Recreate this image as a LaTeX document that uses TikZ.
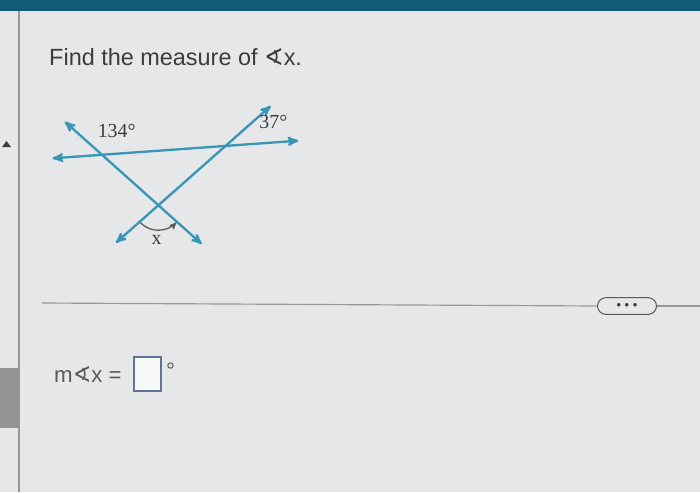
\documentclass[tikz,border=0pt]{standalone}
\usepackage{fontspec}
\setmainfont{Liberation Sans}
\newfontfamily\serifface{Liberation Serif}
\newfontfamily\symface{DejaVu Sans}
\usepackage{tikz}
\usetikzlibrary{arrows}
\definecolor{barteal}{RGB}{16,92,120}
\definecolor{lineteal}{RGB}{58,150,182}
\definecolor{paper}{RGB}{229,231,233}
\definecolor{inkgray}{RGB}{58,60,62}
\definecolor{softgray}{RGB}{88,90,94}
\definecolor{rulegray}{RGB}{150,153,156}
\definecolor{boxblue}{RGB}{96,116,152}
\tikzset{
  geo_line/.style = {lineteal, line width=2pt, <->, >=stealth'},% the three lines
  geo_arc/.style = {softgray, line width=1.1pt, ->, >=stealth'},% arc marking x
  geo_lbl/.style = {inner sep=0pt, text=inkgray,
    font=\serifface\fontsize{17}{17}\selectfont},% angle labels
  ttl_txt/.style = {inner sep=0pt, text=inkgray,
    font=\fontsize{20}{24}\selectfont},% question text
  ans_txt/.style = {inner sep=0pt, text=softgray,
    font=\fontsize{19}{22}\selectfont},% answer line
  ans_box/.style = {draw=boxblue, line width=0.9pt, fill=white!70!paper,
    minimum width=0.81cm, minimum height=1.02cm, inner sep=0pt},% input box
  dots_pill/.style = {draw=softgray, line width=0.9pt, rounded corners=0.25cm,
    minimum width=1.77cm, minimum height=0.5cm, inner sep=0pt, fill=paper,
    text=inkgray, font=\fontsize{11}{11}\selectfont}% more button
}

\begin{document}
\begin{tikzpicture}[x=0.03cm,y=-0.03cm]
    \useasboundingbox (0,0) rectangle (700,492);
    \fill[paper] (0,0) rectangle (700,492);
    \fill[barteal] (0,0) rectangle (700,11);
    \draw[rulegray, line width=1pt] (19,11) -- (19,492);
    \fill[gray!85] (0,368) rectangle (19,428);
    \fill[inkgray] (2,147) -- (11,147) -- (6.5,141) -- cycle;

    \node [ttl_txt, anchor=base west] (ttl) at (49,65)
        {Find the measure of {\symface ∢}x.};

    % the figure
    \coordinate (dA) at (65,121.7);
    \coordinate (dB) at (201.7,244);
    \coordinate (uA) at (116,242.7);
    \coordinate (uB) at (270.7,106);
    \coordinate (hA) at (52.7,158.3);
    \coordinate (hB) at (298.3,140.7);
    \coordinate (cx) at (158.3,205.2);
    \draw [geo_line] (dA) -- (dB);
    \draw [geo_line] (uA) -- (uB);
    \draw [geo_line] (hA) -- (hB);
    \draw [geo_arc] (cx) ++(136:25) arc (136:44:25);
    \node [geo_lbl] (l134) at (116.7,130.7) {134°};
    \node [geo_lbl] (l37) at (273.3,121.7) {37°};
    \node [geo_lbl] (lx) at (156.7,240) {x};

    % separator with button
    \node [dots_pill] (more) at (627,306) {•\hspace{3pt}•\hspace{3pt}•};
    \coordinate (sepA) at (42,303);
    \coordinate (sepB) at (700,306);
    \draw [rulegray, line width=1pt] (sepA) -- (more.west);
    \draw [rulegray, line width=1pt] (more.east) -- (sepB);

    % answer line
    \node [ans_txt, anchor=base west] (ans) at (54,382) {m{\symface ∢}x =};
    \node [ans_box] (abox) at (147.5,374) {};
    \node [ans_txt, anchor=base west] (adeg) at (166,378) {°};
\end{tikzpicture}
\end{document}
